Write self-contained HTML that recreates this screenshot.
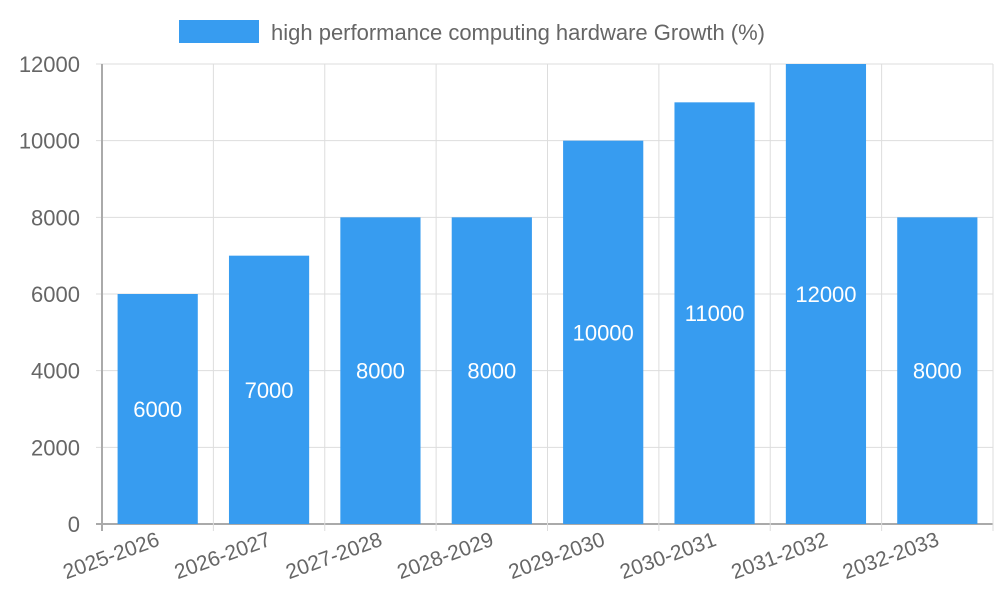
<!DOCTYPE html>
<html><head><meta charset="utf-8"><style>
html,body{margin:0;padding:0;background:#fff;}
svg text{font-family:"Liberation Sans",sans-serif;}
</style></head><body>
<svg id="chart" width="1000" height="600">
<g>
<rect x="179" y="20" width="80" height="23" fill="#379cf0"/>
<text x="271" y="40" font-size="22" fill="#666">high performance computing hardware Growth (%)</text>
</g>
<g id="grid"></g>
<g id="bars"></g>
<g id="axes"></g>
</svg>
<script>
const categories=["2025-2026","2026-2027","2027-2028","2028-2029","2029-2030","2030-2031","2031-2032","2032-2033"];
const values=[6000,7000,8000,8000,10000,11000,12000,8000];
const yTicks=[0,2000,4000,6000,8000,10000,12000];
const L=102,R=993,T=64,B=524,yMax=12000;
const NS="http://www.w3.org/2000/svg";
const bw=(R-L)/categories.length;
const y=v=>B-(v/yMax)*(B-T);
const x=i=>L+i*bw;
function mk(tag,attrs,parent,txt){const e=document.createElementNS(NS,tag);for(const k in attrs)e.setAttribute(k,attrs[k]);if(txt!==undefined)e.textContent=txt;parent.appendChild(e);return e;}
const g=document.getElementById('grid'),b=document.getElementById('bars'),a=document.getElementById('axes');
yTicks.forEach(t=>{
 const l=mk('line',{x1:96,x2:R,y1:y(t),y2:y(t),stroke:t===0?'#aaa':'#ddd','stroke-width':t===0?2:1},g);
 
 
 const tx=mk('text',{x:80,y:y(t)+8,'text-anchor':'end','font-size':22,fill:'#666'},a,String(t));
 
 
});
for(let i=0;i<=categories.length;i++){
 const l=mk('line',{x1:x(i),x2:x(i),y1:T,y2:B+7,stroke:i===0?'#aaa':'#ddd','stroke-width':i===0?2:1},g);
 
 
}
categories.forEach((c,i)=>{
 const cx=x(i)+bw/2,w=bw*0.72;
 const r=mk('rect',{x:cx-w/2,y:y(values[i]),width:w,height:B-y(values[i]),fill:'#379cf0'},b);
 
 
 const vt=mk('text',{x:cx,y:(y(values[i])+B)/2+8,'text-anchor':'middle','font-size':22,fill:'#fff'},b,String(values[i]));
 
 
 const lt=mk('text',{x:cx+3,y:545,'text-anchor':'end','font-size':21,fill:'#666',transform:`rotate(-20 ${cx+3} 545)`},a,c);
 
 
});
</script>
</body></html>
